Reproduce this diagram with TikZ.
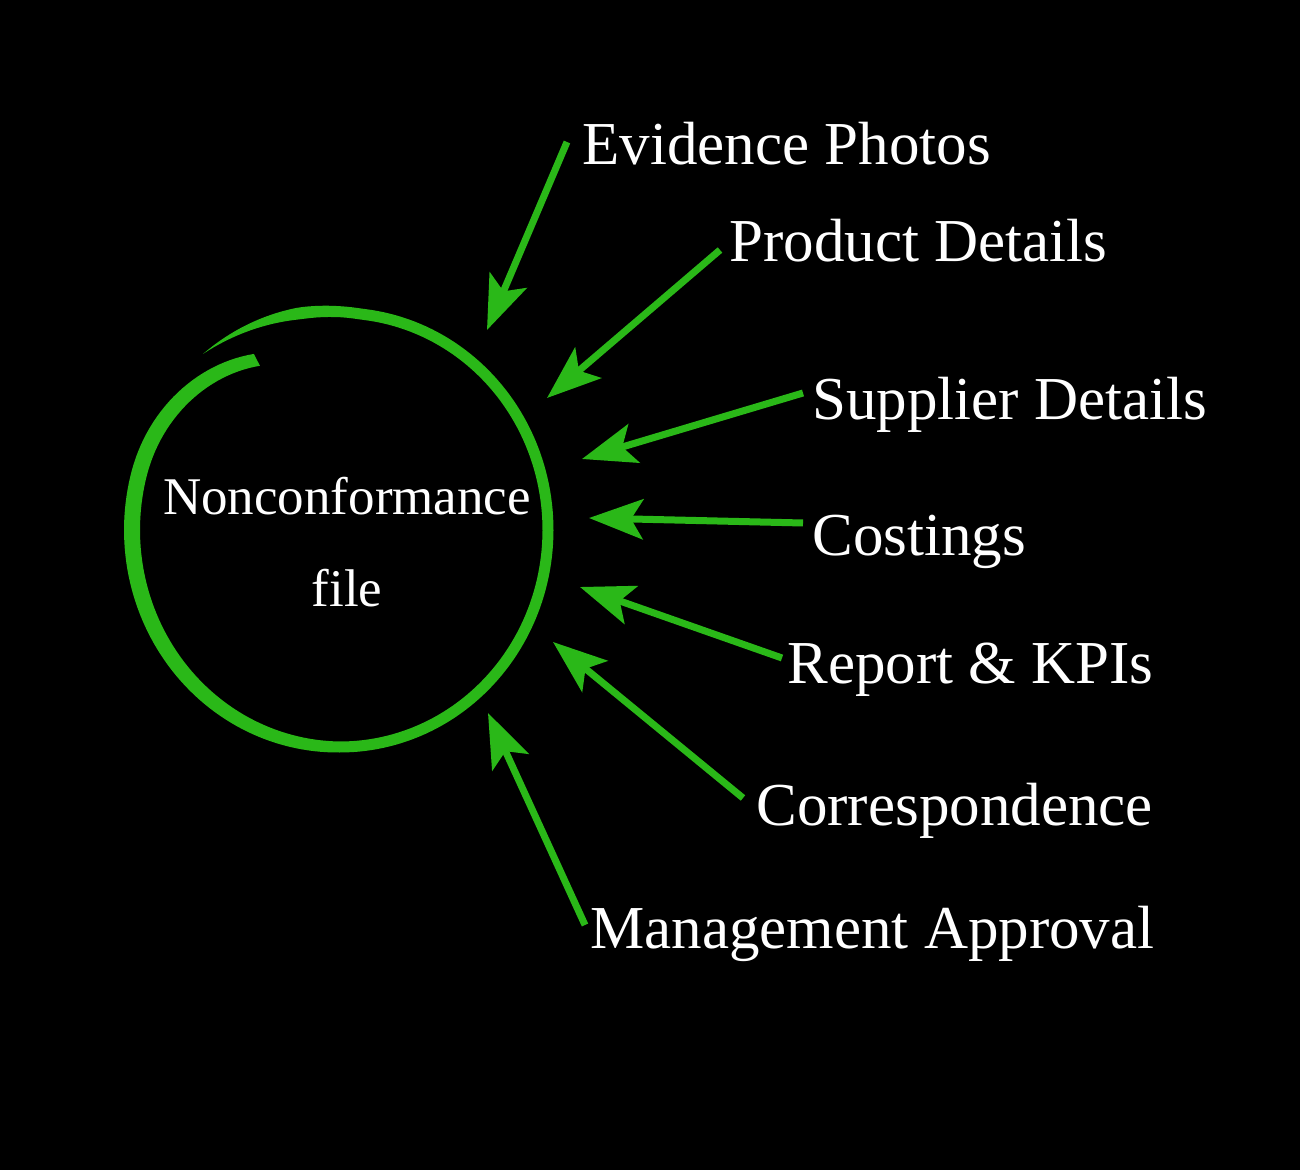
\documentclass[tikz,border=0pt]{standalone}
\usepackage{fontspec}
\setmainfont{Liberation Serif}
\usetikzlibrary{arrows.meta}
\definecolor{ringgreen}{RGB}{42,184,24}

\begin{document}
\begin{tikzpicture}[x=0.5pt,y=-0.5pt,
    lbl/.style={anchor=base west,inner sep=0pt,text=white,font=\fontsize{30.5}{36}\selectfont},
    feed/.style={ringgreen,line width=3.5pt,-{Stealth[length=27pt,width=20pt,inset=6pt]}},
    declare function={rw(\s)=min(1,\s/28)*(11+5*max(0,-cos(129-\s)));
                      rf(\s)=1+0.045*max(0,1-\s/45)-0.12*(max(0,(\s-324)/48))^2;}]
    \useasboundingbox (0,0) rectangle (1300,1170);
    \fill[black] (0,0) rectangle (1300,1170);

    % hand drawn ring
    \fill[ringgreen] plot[domain=0:372,samples=220,variable=\s]
        ({340+(208*rf(\s)+rw(\s)/2)*cos(129-\s)},{530-(217*rf(\s)+rw(\s)/2)*sin(129-\s)})
        -- plot[domain=0:372,samples=220,variable=\u]
        ({340+(208*rf(372-\u)-rw(372-\u)/2)*cos(\u-243)},{530-(217*rf(372-\u)-rw(372-\u)/2)*sin(\u-243)})
        -- cycle;
    \node[align=center,inner sep=0pt,text=white,font=\fontsize{26.5}{46}\selectfont] (nc) at (347,542) {Nonconformance\\file};

    \node[lbl] (ev) at (582,165) {Evidence Photos};
    \node[lbl] (pd) at (729,262) {Product Details};
    \node[lbl] (sd) at (812,420) {Supplier Details};
    \node[lbl] (co) at (812,555) {Costings};
    \node[lbl] (rk) at (787,683) {Report \& KPIs};
    \node[lbl] (cr) at (756,825) {Correspondence};
    \node[lbl] (ma) at (590,948) {Management Approval};

    \coordinate (evt) at (567,142); \coordinate (evh) at (487,330);
    \coordinate (pdt) at (720,250); \coordinate (pdh) at (547,398);
    \coordinate (sdt) at (803,393); \coordinate (sdh) at (582,459);
    \coordinate (cot) at (803,523); \coordinate (coh) at (589,518);
    \coordinate (rkt) at (782,658); \coordinate (rkh) at (580,587);
    \coordinate (crt) at (743,798); \coordinate (crh) at (553,642);
    \coordinate (mat) at (585,925); \coordinate (mah) at (488,713);

    \draw[feed] (evt) -- (evh);
    \draw[feed] (pdt) -- (pdh);
    \draw[feed] (sdt) -- (sdh);
    \draw[feed] (cot) -- (coh);
    \draw[feed] (rkt) -- (rkh);
    \draw[feed] (crt) -- (crh);
    \draw[feed] (mat) -- (mah);
\end{tikzpicture}
\end{document}
